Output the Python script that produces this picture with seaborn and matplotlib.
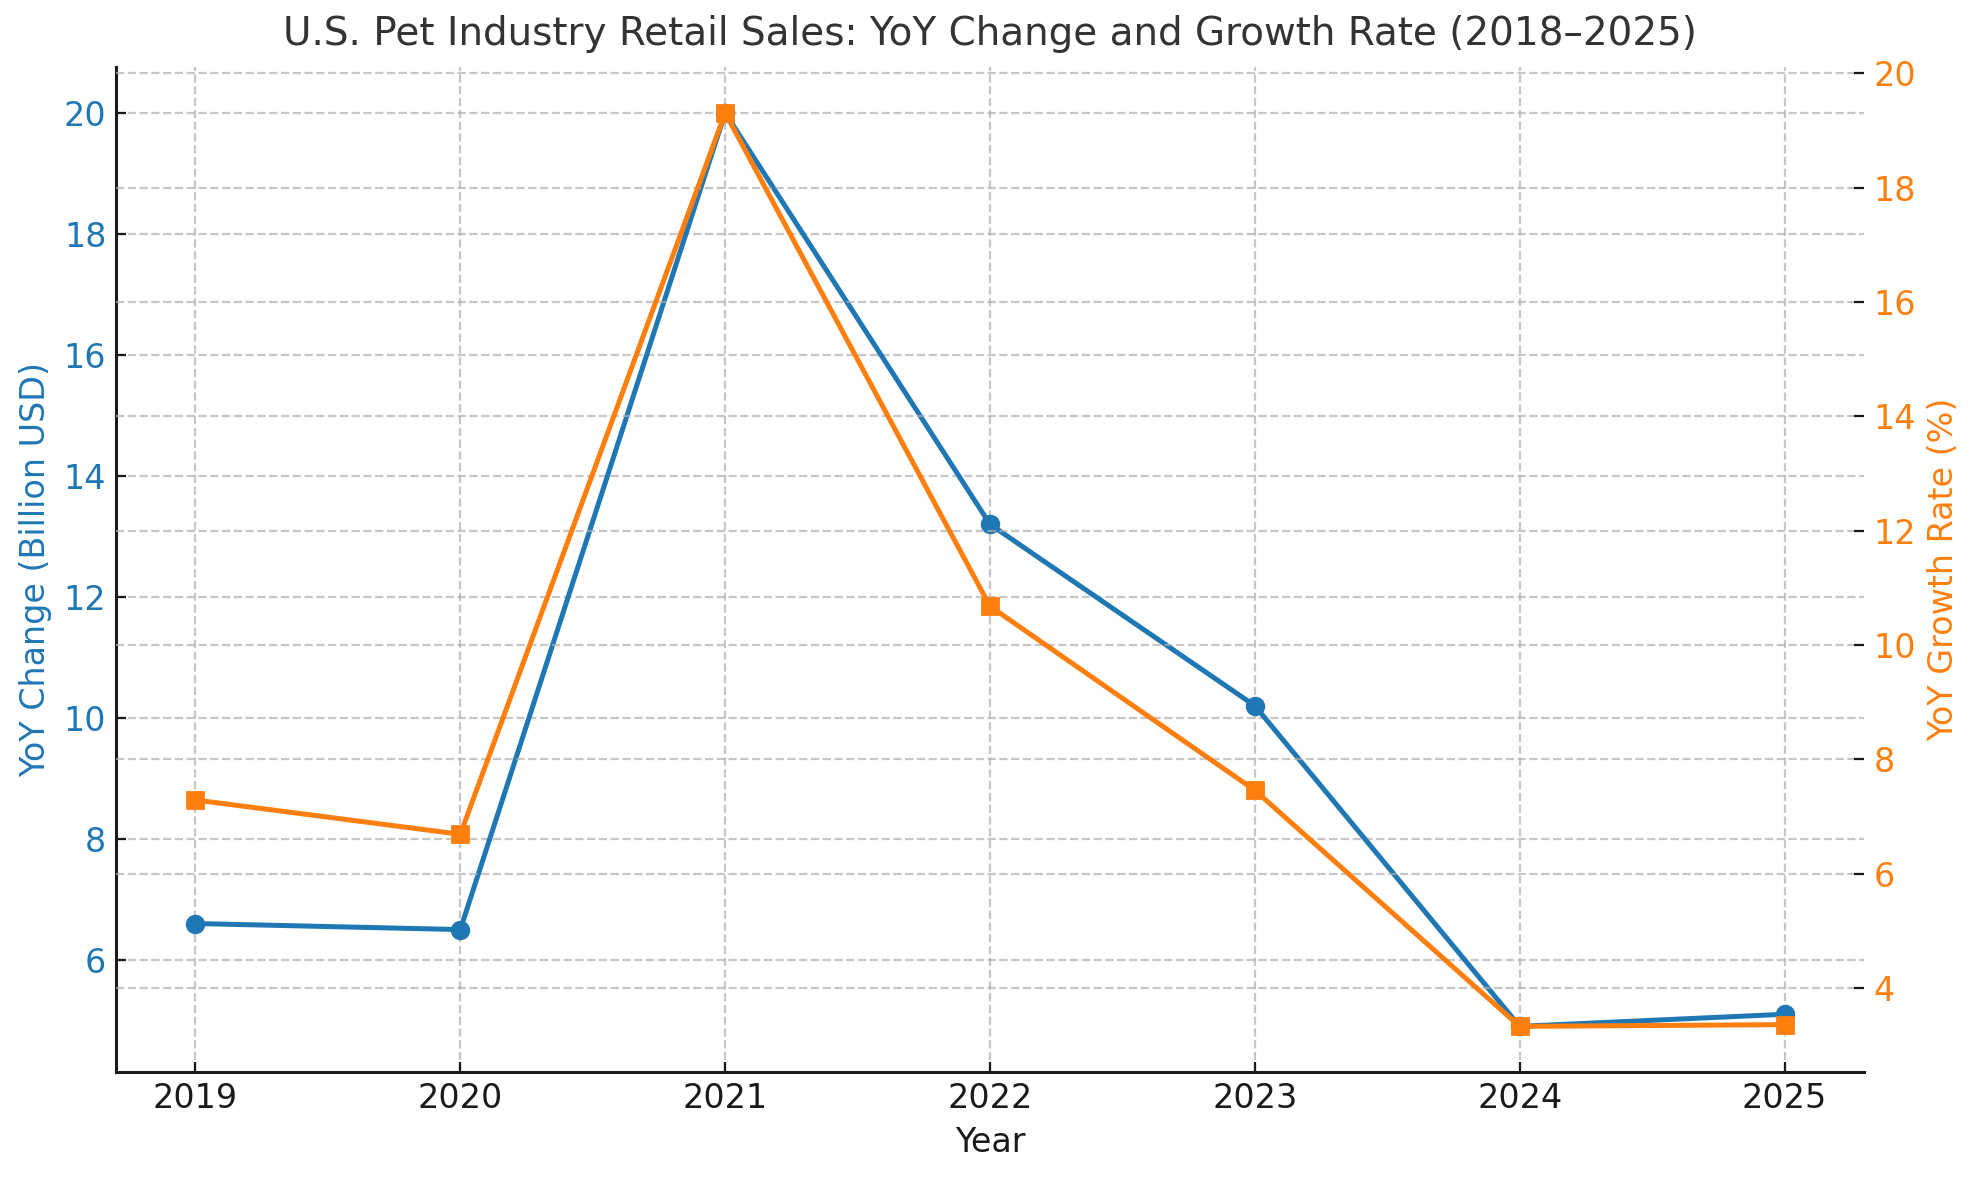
import matplotlib
matplotlib.use("Agg")
import matplotlib.pyplot as plt
import seaborn as sns
import pandas as pd

years = [2019, 2020, 2021, 2022, 2023, 2024, 2025]
yoy_change_busd = [6.6, 6.5, 20.0, 13.2, 10.2, 4.9, 5.1]
yoy_growth_pct = [7.29, 6.69, 19.31, 10.68, 7.46, 3.33, 3.36]

title = "U.S. Pet Industry Retail Sales: YoY Change and Growth Rate (2018\u20132025)"
left_label = "YoY Change (Billion USD)"
right_label = "YoY Growth Rate (%)"
x_label = "Year"

blue = "#1f77b4"
orange = "#ff7f0e"

sns.set_style("ticks")
plt.rcParams["font.family"] = ["DejaVu Sans"]
plt.rcParams["axes.spines.top"] = False
plt.rcParams["axes.spines.right"] = False
plt.rcParams["xtick.direction"] = "in"
plt.rcParams["ytick.direction"] = "in"

df = pd.DataFrame({"year": years, "change": yoy_change_busd, "growth": yoy_growth_pct})

fig, ax = plt.subplots(figsize=(9.9, 5.9), dpi=200)
fig.subplots_adjust(left=0.0586, right=0.9414, bottom=0.0915, top=0.943)

sns.lineplot(data=df, x="year", y="change", ax=ax, color=blue, marker="o",
             markersize=6, markeredgecolor=blue, markeredgewidth=1, linewidth=1.8)
ax.set_xlabel(x_label, fontsize=12, color="#1a1a1a")
ax.set_ylabel(left_label, fontsize=12, color=blue)
ax.tick_params(axis="y", direction="in", labelcolor=blue, labelsize=12, color="#1a1a1a")
ax.tick_params(axis="x", direction="in", labelsize=12, labelcolor="#1a1a1a", color="#1a1a1a")
ax.set_xticks(years)
ax.set_xticklabels([str(y) for y in years])
ax.grid(True, linestyle="--", linewidth=0.8, color="#b0b0b0", alpha=0.7)
for s in ["left", "bottom"]:
    ax.spines[s].set_color("#1a1a1a")
    ax.spines[s].set_linewidth(1.1)

ax2 = ax.twinx()
sns.lineplot(data=df, x="year", y="growth", ax=ax2, color=orange, marker="s",
             markersize=6, markeredgecolor=orange, markeredgewidth=1, linewidth=1.8)
ax2.set_ylabel(right_label, fontsize=12, color=orange)
ax2.tick_params(axis="y", direction="in", labelcolor=orange, labelsize=12, color="#1a1a1a")
ax2.grid(True, linestyle="--", linewidth=0.8, color="#b0b0b0", alpha=0.7)
for s in ["left", "right", "top", "bottom"]:
    ax2.spines[s].set_visible(False)
ax2.set_xlabel("")

ax.set_title(title, fontsize=14, color="#333333", pad=8)

fig.savefig("out.png", dpi=200)
